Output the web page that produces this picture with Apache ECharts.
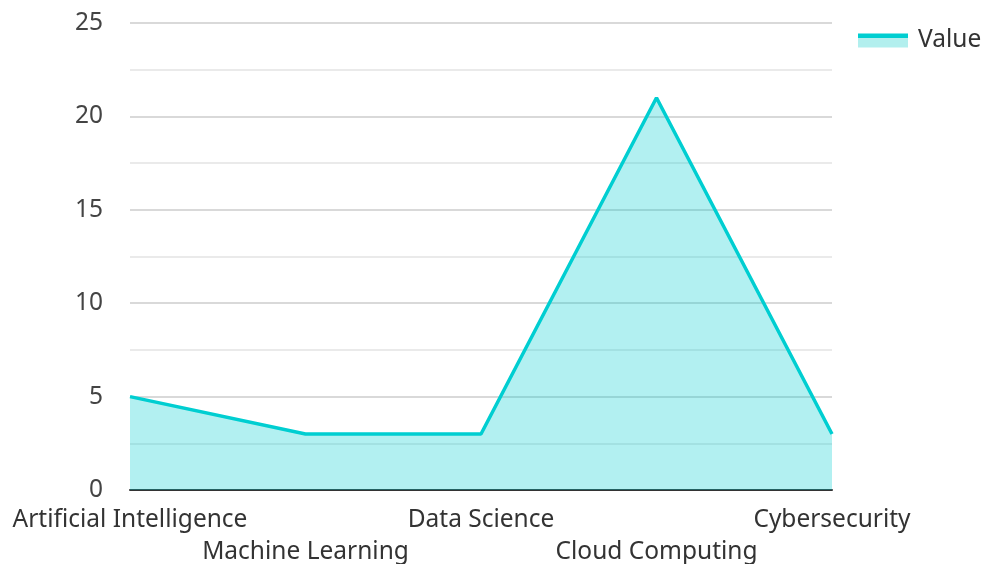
<!DOCTYPE html>
<html>
<head>
<meta charset="utf-8">
<script src="https://cdn.jsdelivr.net/npm/echarts@6/dist/echarts.min.js"></script>
<style>html,body{margin:0;padding:0;background:#fff}#c{width:982px;height:564px}</style>
</head>
<body>
<div id="c"></div>
<script>
const categories = ['Artificial Intelligence', 'Machine Learning', 'Data Science', 'Cloud Computing', 'Cybersecurity'];
const values = [5, 3, 3, 21, 3];
const seriesName = 'Value';
const yTicks = [0, 5, 10, 15, 20, 25];

const chart = echarts.init(document.getElementById('c'), null, {renderer: 'canvas'});
chart.setOption({
  animation: false,
  textStyle: {fontFamily: 'Noto Sans'},
  grid: {left: 130, right: 150, top: 23, bottom: 74, containLabel: false, outerBoundsMode: 'none'},
  legend: {
    left: 853, top: 23,
    itemWidth: 50, itemHeight: 14,
    icon: 'rect',
    textStyle: {fontSize: 24.5, color: '#333', fontFamily: 'Noto Sans', padding: [0, 0, 0, 5]},
    data: [{
      name: seriesName,
      itemStyle: {
        color: new echarts.graphic.LinearGradient(0, 0, 0, 1, [
          {offset: 0, color: '#00ced1'}, {offset: 0.3, color: '#00ced1'},
          {offset: 0.3, color: '#b2efee'}, {offset: 1, color: '#b2efee'}
        ])
      }
    }]
  },
  xAxis: {
    type: 'category',
    data: categories,
    boundaryGap: false,
    axisLine: {lineStyle: {color: '#333', width: 2}},
    axisTick: {show: false},
    axisLabel: {
      interval: 0, margin: 14, fontSize: 24.5, color: '#333', lineHeight: 32,
      fontFamily: 'Noto Sans',
      formatter: (v, i) => (i % 2 ? '\n' + v : v)
    }
  },
  yAxis: {
    type: 'value',
    min: yTicks[0], max: yTicks[yTicks.length - 1], interval: 5,
    axisLine: {show: false},
    axisTick: {show: false},
    axisLabel: {fontSize: 24.5, color: '#444', margin: 27, fontFamily: 'Noto Sans'},
    splitLine: {lineStyle: {color: '#cccccc', width: 1.5}},
    minorTick: {show: false, splitNumber: 2},
    minorSplitLine: {show: true, lineStyle: {color: '#e3e3e3', width: 1.5}}
  },
  series: [{
    name: seriesName,
    type: 'line',
    data: values,
    showSymbol: false,
    symbol: 'none',
    lineStyle: {color: '#00ced1', width: 3.5},
    itemStyle: {color: '#00ced1'},
    areaStyle: {color: '#00ced1', opacity: 0.3}
  }]
});
</script>
</body>
</html>
